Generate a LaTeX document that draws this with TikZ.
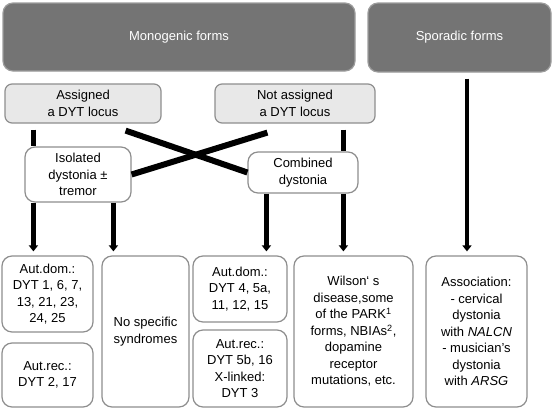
\documentclass[tikz,border=0pt]{standalone}
\usepackage{fontspec}
\setmainfont{Liberation Sans}
\usepackage{tikz}
\usetikzlibrary{arrows.meta,calc}

\definecolor{darkfill}{HTML}{747474}
\definecolor{darkedge}{HTML}{9C9C9C}
\definecolor{lightfill}{HTML}{E8E8E8}
\definecolor{boxedge}{HTML}{8E8E8E}

\begin{document}
\begin{tikzpicture}[x=1pt,y=-1pt,font=\fontsize{13}{16.5}\selectfont,every text node part/.style={align=center},
	darkbox/.style={draw=darkedge,fill=darkfill,text=white,line width=1.2pt,rounded corners=10pt,inner sep=0pt},
	lightbox/.style={draw=boxedge,fill=lightfill,line width=1.2pt,rounded corners=7pt,inner sep=0pt},
	whitebox/.style={draw=boxedge,fill=white,line width=1.2pt,rounded corners=10pt,inner sep=0pt},
	link/.style={line width=4.5pt},
	arr/.style={line width=4.5pt,-{Triangle[width=9pt,length=6pt]},shorten >=4pt},
	cross/.style={line width=6pt}]
	\useasboundingbox (0,0) rectangle (555,410);

	\node[darkbox,minimum width=352pt,minimum height=68pt] (mono) at (179,37) {Monogenic forms};
	\node[darkbox,minimum width=183pt,minimum height=69pt] (spor) at (459.5,37.5) {Sporadic forms};
	\node[lightbox,minimum width=156pt,minimum height=39pt] (assig) at (83,103.5) {Assigned\\a DYT locus};
	\node[lightbox,minimum width=160pt,minimum height=39pt] (notassig) at (295,103.5) {Not assigned\\a DYT locus};
	\node[whitebox,minimum width=106pt,minimum height=55pt] (isol) at (78,174.5) {Isolated\\dystonia ±\\tremor};
	\node[whitebox,minimum width=110pt,minimum height=41pt] (comb) at (303,172.5) {Combined\\dystonia};

	\node[whitebox,minimum width=91pt,minimum height=76pt] (domA) at (47.5,294) {Aut.dom.:\\DYT 1, 6, 7,\\13,  21, 23,\\24, 25};
	\node[whitebox,minimum width=91pt,minimum height=64pt] (recA) at (47.5,375) {Aut.rec.:\\DYT 2, 17};
	\node[whitebox,minimum width=87pt,minimum height=151pt] (nospec) at (145.5,331.5) {No specific\\syndromes};
	\node[whitebox,minimum width=94pt,minimum height=66pt] (domB) at (240,289) {Aut.dom.:\\DYT 4, 5a,\\11, 12, 15};
	\node[whitebox,minimum width=94pt,minimum height=77pt] (recB) at (240,368.5) {Aut.rec.:\\DYT 5b, 16\\X-linked:\\DYT 3};
	\node[whitebox,minimum width=119pt,minimum height=151pt] (wilson) at (353.5,331.5) {Wilson‘ s\\disease,some\\of the PARK\textsuperscript{1}\\forms, NBIAs\textsuperscript{2},\\dopamine\\receptor\\mutations, etc.};
	\node[whitebox,minimum width=101pt,minimum height=151pt] (assoc) at (476.5,331.5) {Association:\\- cervical\\dystonia\\with \textit{NALCN}\\- musician’s\\dystonia\\with \textit{ARSG}};

	% monogenic branches
	\draw[link] ($(assig.south west)+(29,6)$) -- ($(isol.north west)+(9,0)$);
	\draw[link] ($(notassig.south west)+(129,6)$) -- ($(comb.north west)+(96,0)$);
	\draw[cross] ($(assig.south east)+(-36,7)$) -- (comb.west);
	\draw[cross] ($(notassig.south west)+(53,9)$) -- (isol.east);

	\draw[arr] ($(isol.south west)+(9,0)$) -- ($(domA.north west)+(32,0)$);
	\draw[arr] ($(isol.south west)+(89,0)$) -- ($(nospec.north west)+(12,0)$);
	\draw[arr] ($(comb.south west)+(19,0)$) -- ($(domB.north west)+(74,0)$);
	\draw[arr] ($(comb.south west)+(96,0)$) -- ($(wilson.north west)+(50,0)$);

	% sporadic
	\draw[arr] ($(spor.south)+(7.5,6)$) -- ($(assoc.north)+(-9.5,0)$);
\end{tikzpicture}
\end{document}
